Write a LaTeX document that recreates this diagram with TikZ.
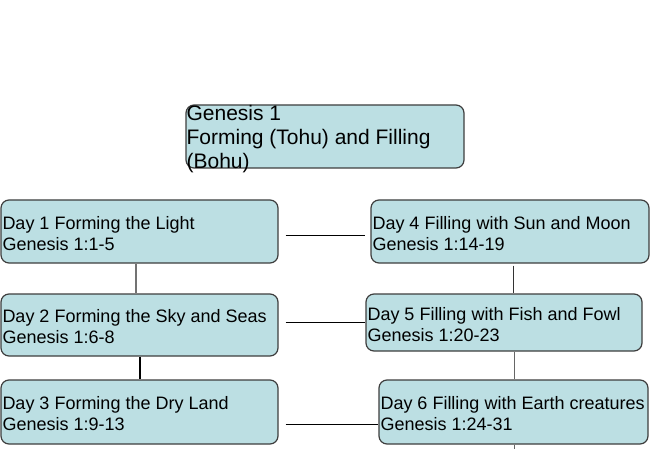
\documentclass[tikz,border=0pt]{standalone}
\usepackage{fontspec}
\setmainfont{Liberation Sans}
\usepackage{tikz}
\usetikzlibrary{calc}

\definecolor{boxfill}{RGB}{188,223,227}
\definecolor{boxline}{RGB}{62,62,62}

\tikzset{
  box/.style={draw=boxline,fill=boxfill,line width=1.2pt,rounded corners=8pt,inner xsep=1.5pt,inner ysep=0pt,align=flush left},
  day/.style 2 args={box,text width=#1,minimum height=#2,font=\fontsize{18}{21}\selectfont,execute at begin node={\rule{0pt}{17pt}}},
  link/.style={line width=1pt,black}
}

\begin{document}
\begin{tikzpicture}[x=1pt,y=-1pt]
  % Boundary
  \path[use as bounding box] (0,0) rectangle (650,462);
  % Title
  \node[box,minimum width=278,minimum height=63] (gen) at (325,136.5) {};
  \node[anchor=west,inner sep=0pt,align=left,font=\fontsize{21}{24}\selectfont] (gentext) at ($(gen.west)+(1,2.5)$) {Genesis 1\\Forming (Tohu) and Filling\\(Bohu)};
  % Forming
  \node[day={274}{63}] (d1) at (139.5,231.5) {Day 1 Forming the Light\\Genesis 1:1-5};
  \node[day={274}{62}] (d2) at (139.5,325) {Day 2 Forming the Sky and Seas\\Genesis 1:6-8};
  \node[day={274}{64}] (d3) at (139.5,412) {Day 3 Forming the Dry Land\\Genesis 1:9-13};
  % Filling
  \node[day={275}{63}] (d4) at (510,231.5) {Day 4 Filling with Sun and Moon\\Genesis 1:14-19};
  \node[day={273}{57}] (d5) at (504,322.5) {Day 5 Filling with Fish and Fowl\\Genesis 1:20-23};
  \node[day={266}{64}] (d6) at (513.5,412) {Day 6 Filling with Earth creatures\\Genesis 1:24-31};
  % Across
  \draw[link] ($(d1.east)+(7,4.5)$) -- ($(d1.east -| d4.west)+(-5,4.5)$);
  \draw[link] ($(d2.east)+(7,-3)$) -- ($(d2.east -| d5.west)+(0,-3)$);
  \draw[link] ($(d3.east)+(7,12)$) -- ($(d3.east -| d6.west)+(0,12)$);
  % Down
  \draw[line width=1.6pt,black!55] ($(d1.south)+(-3.5,0)$) -- ($(d2.north)+(-3.5,0)$);
  \draw[line width=2.4pt,black] ($(d2.south)+(0.5,0)$) -- ($(d3.north)+(0.5,0)$);
  \draw[line width=1.2pt,black!80] ($(d5.north |- d4.south)+(9.3,2)$) -- ($(d5.north)+(9.3,0)$);
  \draw[line width=1.6pt,black!60] ($(d6.north |- d5.south)+(0.8,0)$) -- ($(d6.north)+(0.8,0)$);
  \coordinate (d6stub) at ($(d6.south)+(0.8,4)$);
  \draw[line width=1.6pt,black!60] ($(d6.south)+(0.8,0)$) -- (d6stub);
\end{tikzpicture}
\end{document}
